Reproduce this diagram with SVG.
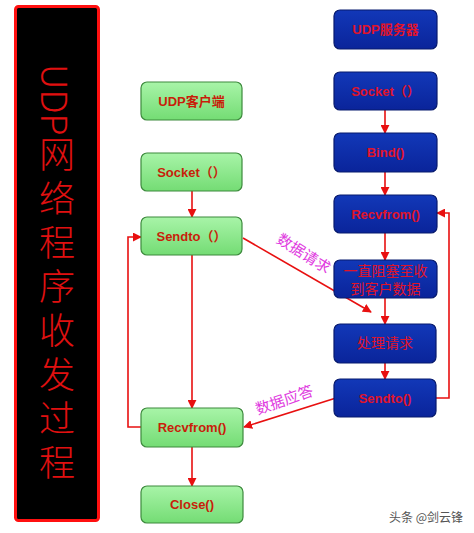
<svg xmlns="http://www.w3.org/2000/svg" width="474" height="533" viewBox="0 0 474 533">
<defs>
<linearGradient id="gg" x1="0" y1="0" x2="0" y2="1"><stop offset="0" stop-color="#a8f4a8"/><stop offset="1" stop-color="#74dc74"/></linearGradient>
<linearGradient id="bg" x1="0" y1="0" x2="0" y2="1"><stop offset="0" stop-color="#1238b8"/><stop offset="1" stop-color="#0a249a"/></linearGradient>
<marker id="ah" viewBox="0 0 10 10" refX="9" refY="5" markerWidth="9" markerHeight="9" markerUnits="userSpaceOnUse" orient="auto"><path d="M0,0 L10,5 L0,10 Z" fill="#e81010"/></marker>
<style>
.g{fill:url(#gg);stroke:#3d8a3d;stroke-width:1.2}
.b{fill:url(#bg);stroke:#071a6e;stroke-width:1.2}
.t{font-family:"Liberation Sans","Noto Sans CJK SC",sans-serif;font-weight:bold;font-size:13px;text-anchor:middle}
.tg{fill:#c81e0a}
.tb{fill:#e0142a}
.ts{font-family:"Liberation Serif","Noto Sans CJK SC",serif;font-size:14px;text-anchor:middle;fill:#e0142a}
.c{stroke:#e81010;stroke-width:1.6;fill:none}
.lab{font-family:"Liberation Serif","Noto Sans CJK SC",serif;font-size:15px;fill:#e03ce0;text-anchor:middle}
.v{font-family:"Noto Sans CJK SC",sans-serif;font-weight:300;font-size:36px;fill:#e01010}
</style>
</defs>
<rect width="474" height="533" fill="#ffffff"/>
<g id="title">
<rect x="15.5" y="6.5" width="83" height="514" rx="3" fill="#000" stroke="#ff1010" stroke-width="3"/>
<text class="v" x="57" y="64" writing-mode="vertical-rl"><tspan>UDP</tspan><tspan letter-spacing="8">网络程序收发过程</tspan></text>
</g>
<g id="connectors">
<line class="c" x1="192" y1="191" x2="192" y2="217" marker-end="url(#ah)"/>
<line class="c" x1="192" y1="255" x2="192" y2="408" marker-end="url(#ah)"/>
<line class="c" x1="192" y1="447" x2="192" y2="486" marker-end="url(#ah)"/>
<polyline class="c" points="141,427 128,427 128,237 141,237" marker-end="url(#ah)"/>
<line class="c" x1="243" y1="238" x2="371" y2="312" marker-end="url(#ah)"/>
<line class="c" x1="385" y1="110" x2="385" y2="133" marker-end="url(#ah)"/>
<line class="c" x1="385" y1="172" x2="385" y2="195" marker-end="url(#ah)"/>
<line class="c" x1="385" y1="233" x2="385" y2="260" marker-end="url(#ah)"/>
<line class="c" x1="385" y1="298" x2="385" y2="324" marker-end="url(#ah)"/>
<line class="c" x1="385" y1="363" x2="385" y2="379" marker-end="url(#ah)"/>
<polyline class="c" points="436,398 449,398 449,213 437,213" marker-end="url(#ah)"/>
<line class="c" x1="336" y1="398" x2="244" y2="427" marker-end="url(#ah)"/>
<text class="lab" transform="translate(301,258) rotate(32)">数据请求</text>
<text class="lab" transform="translate(286,405) rotate(-19)">数据应答</text>
</g>
<g id="client">
<g id="c-title"><rect class="g" x="141" y="82" width="101" height="38" rx="6"/><text class="t tg" x="191.5" y="106">UDP客户端</text></g>
<g id="c-socket"><rect class="g" x="141" y="153" width="101" height="38" rx="6"/><text class="t tg" x="191.5" y="177">Socket（）</text></g>
<g id="c-sendto"><rect class="g" x="141" y="217" width="101" height="38" rx="6"/><text class="t tg" x="191.5" y="241">Sendto（）</text></g>
<g id="c-recvfrom"><rect class="g" x="141" y="408" width="102" height="39" rx="6"/><text class="t tg" x="192" y="432">Recvfrom()</text></g>
<g id="c-close"><rect class="g" x="141" y="486" width="102" height="37" rx="6"/><text class="t tg" x="192" y="509">Close()</text></g>
</g>
<g id="server">
<g id="s-title"><rect class="b" x="334" y="10" width="103" height="39" rx="6"/><text class="t tb" x="385.5" y="34">UDP服务器</text></g>
<g id="s-socket"><rect class="b" x="334" y="72" width="103" height="38" rx="6"/><text class="t tb" x="385.5" y="96">Socket（）</text></g>
<g id="s-bind"><rect class="b" x="334" y="133" width="103" height="39" rx="6"/><text class="t tb" x="385.5" y="157">Bind()</text></g>
<g id="s-recvfrom"><rect class="b" x="334" y="195" width="103" height="38" rx="6"/><text class="t tb" x="385.5" y="219">Recvfrom()</text></g>
<g id="s-block"><rect class="b" x="334" y="260" width="103" height="38" rx="6"/><text class="ts" x="385.5" y="276">一直阻塞至收</text><text class="ts" x="385.5" y="294">到客户数据</text></g>
<g id="s-process"><rect class="b" x="334" y="324" width="102" height="39" rx="6"/><text class="ts" x="385" y="348">处理请求</text></g>
<g id="s-sendto"><rect class="b" x="334" y="379" width="102" height="38" rx="6"/><text class="t tb" x="385" y="403">Sendto()</text></g>
</g>
<text x="463" y="522" text-anchor="end" style="font-family:'Noto Sans CJK SC',sans-serif;font-size:12px;fill:#555">头条 @剑云锋</text>
</svg>
